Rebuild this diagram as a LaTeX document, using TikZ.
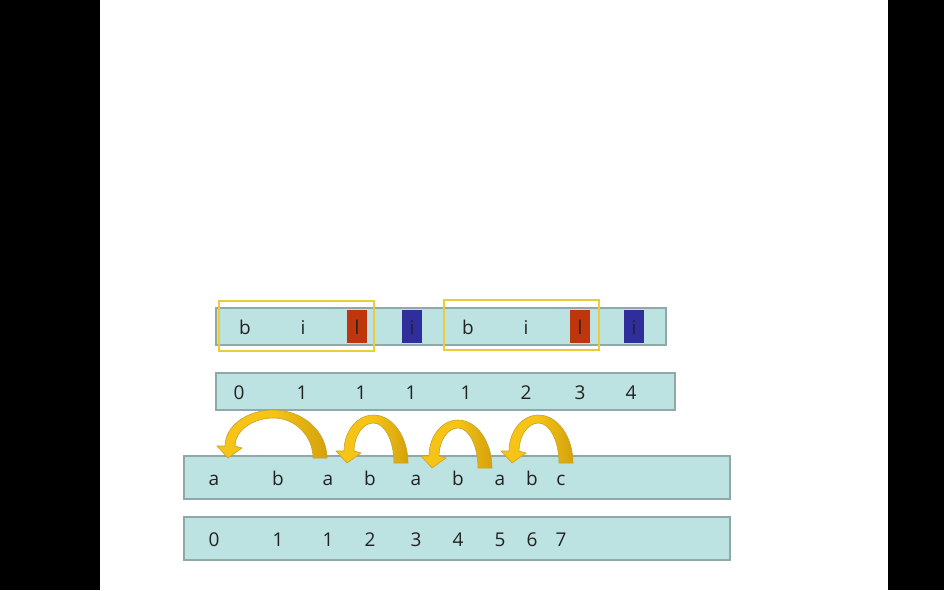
\documentclass[tikz,border=0pt]{standalone}
\usepackage{fontspec}
\setmainfont{Open Sans}
\definecolor{boxfill}{HTML}{BCE3E1}
\definecolor{boxline}{HTML}{8FA9A8}
\definecolor{hlred}{HTML}{C0360C}
\definecolor{hlblue}{HTML}{302D9C}
\definecolor{frameY}{HTML}{EBCB3A}
\definecolor{arrowY}{HTML}{F6C416}
\definecolor{arrowD}{HTML}{D4A10C}
\definecolor{arrowE}{HTML}{C9A227}
\definecolor{txt}{HTML}{222222}
\newcommand\yarrow[3]{%
 \pgfmathsetmacro\Mx{(#1+#3)/2-4}%
 \path[arrowstyle] (#1,#2) .. controls (#1,{#2-26.4}) and ({\Mx+0.55*(#1-\Mx)},{#2-48}) .. (\Mx,{#2-48})
   .. controls ({\Mx-0.55*(\Mx-#3+3)},{#2-48}) and ({#3-3},{#2-32}) .. ({#3-3},{#2-12})
   -- ({#3-11},{#2-12}) -- (#3,#2) -- ({#3+14},{#2-10}) -- ({#3+7},{#2-12})
   .. controls ({#3+7},{#2-27}) and ({\Mx-0.55*(\Mx-#3-7)},{#2-40}) .. (\Mx,{#2-40})
   .. controls ({\Mx+0.55*(#1-14-\Mx)},{#2-40}) and ({#1-14},{#2-22}) .. ({#1-14},#2) -- cycle;
}
\begin{document}
\begin{tikzpicture}[x=1pt,y=-1pt,
  rowbox/.style={fill=boxfill,draw=boxline,line width=1.1pt},
  frame/.style={draw=frameY,line width=1.1pt},
  lbl/.style={anchor=base,inner sep=0pt,text=txt,font=\fontsize{19}{19}\selectfont},
  arrowstyle/.style={left color=arrowY,right color=arrowD,middle color=arrowY,draw=arrowE,line width=0.6pt}]
\useasboundingbox (0,0) rectangle (944,590);
\fill[black] (0,0) rectangle (944,590);
\fill[white] (100,0) rectangle (888,590);
% row 1
\path[rowbox] (216,308) rectangle (666,345);
\fill[hlred] (347,310) rectangle (367,343);
\fill[hlblue] (402,310) rectangle (422,343);
\fill[hlred] (570,310) rectangle (590,343);
\fill[hlblue] (624,310) rectangle (644,343);
\node[lbl] (r1a) at (245,334) {b};
\node[lbl] (r1b) at (303,334) {i};
\node[lbl] (r1c) at (357,334) {l};
\node[lbl] (r1d) at (412,334) {i};
\node[lbl] (r1e) at (468,334) {b};
\node[lbl] (r1f) at (526,334) {i};
\node[lbl] (r1g) at (580,334) {l};
\node[lbl] (r1h) at (634,334) {i};
\path[frame] (219,301) rectangle (374,351);
\path[frame] (444,300) rectangle (599,350);
% row 2
\path[rowbox] (216,373) rectangle (675,410);
\node[lbl] (r2a) at (239,399) {0};
\node[lbl] (r2b) at (302,399) {1};
\node[lbl] (r2c) at (361,399) {1};
\node[lbl] (r2d) at (411,399) {1};
\node[lbl] (r2e) at (466,399) {1};
\node[lbl] (r2f) at (526,399) {2};
\node[lbl] (r2g) at (580,399) {3};
\node[lbl] (r2h) at (631,399) {4};
% row 3
\path[rowbox] (184,456) rectangle (730,499);
\node[lbl] (r3a) at (214,485) {a};
\node[lbl] (r3b) at (278,485) {b};
\node[lbl] (r3c) at (328,485) {a};
\node[lbl] (r3d) at (370,485) {b};
\node[lbl] (r3e) at (416,485) {a};
\node[lbl] (r3f) at (458,485) {b};
\node[lbl] (r3g) at (500,485) {a};
\node[lbl] (r3h) at (532,485) {b};
\node[lbl] (r3i) at (561,485) {c};
% row 4
\path[rowbox] (184,517) rectangle (730,560);
\node[lbl] (r4a) at (214,546) {0};
\node[lbl] (r4b) at (278,546) {1};
\node[lbl] (r4c) at (328,546) {1};
\node[lbl] (r4d) at (370,546) {2};
\node[lbl] (r4e) at (416,546) {3};
\node[lbl] (r4f) at (458,546) {4};
\node[lbl] (r4g) at (500,546) {5};
\node[lbl] (r4h) at (532,546) {6};
\node[lbl] (r4i) at (561,546) {7};
% arrows
\yarrow{327}{458}{228}
\yarrow{408}{463}{347}
\yarrow{492}{468}{432}
\yarrow{573}{463}{512}
\end{tikzpicture}
\end{document}
